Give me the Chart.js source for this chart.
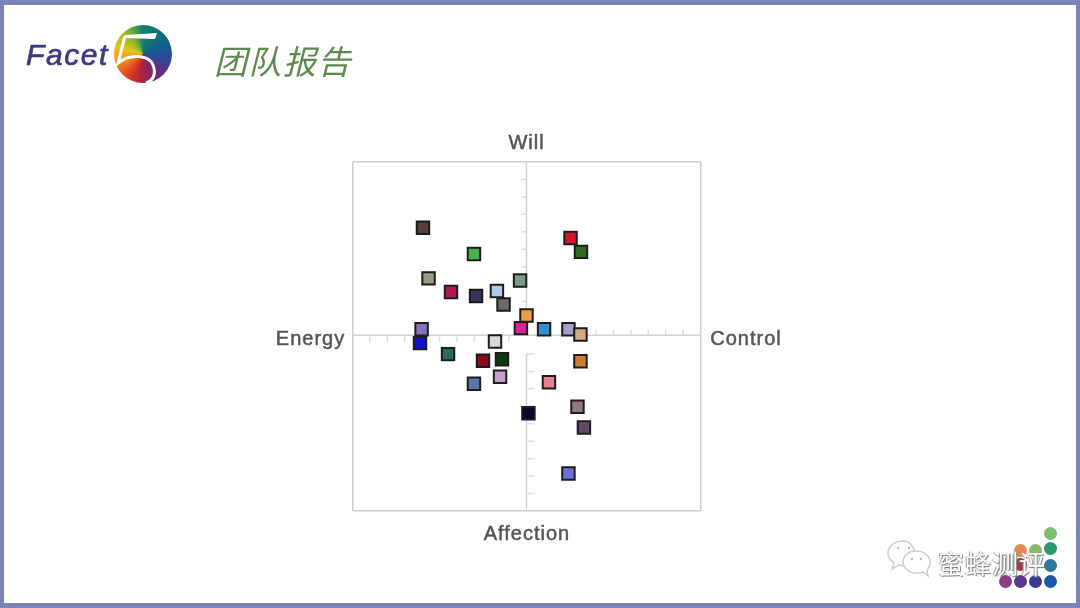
<!DOCTYPE html>
<html>
<head>
<meta charset="utf-8">
<script src="https://cdn.jsdelivr.net/npm/chart.js@4"></script>
<style>
    html, body { margin: 0; padding: 0; background: #fff; }
    #page { position: relative; width: 1080px; height: 608px; overflow: hidden; background: #fff; }
    #frame { position: absolute; left: 0; top: 0; width: 1072px; height: 598px; border: 4px solid #7b84b8; border-top-width: 5px; border-bottom-width: 5px; }
    canvas { position: absolute; left: 0; top: 0; }
    .axis-label { position: absolute; font: 20px "Liberation Sans", Arial, sans-serif; letter-spacing: 1px; color: #555; white-space: nowrap; transform: translate(-50%, -50%); -webkit-text-stroke: 0.5px #555; }
    #facet { position: absolute; left: 26px; top: 38px; font: italic 30px "Liberation Sans", Arial, sans-serif; letter-spacing: 1.6px; color: #3b3b80; -webkit-text-stroke: 0.7px #3b3b80; }
    #globe { position: absolute; left: 114px; top: 25px; width: 58px; height: 58px; border-radius: 50%; overflow: hidden;
        background: conic-gradient(#0f8068 0deg, #12608c 70deg, #2b4a98 100deg, #6a2a80 140deg, #b0203c 185deg, #e0401f 215deg, #f0901c 250deg, #e8c41c 285deg, #88b82c 325deg, #0f8068 360deg); }
    #logo5, #bubbles { position: absolute; left: 0; top: 0; }
    #title { position: absolute; left: 214px; top: 36px; font: italic 33px "Noto Sans CJK SC", sans-serif; letter-spacing: 1.5px; color: #5f8a4e; }
    #mark { position: absolute; left: 938px; top: 544px; font: 26px "Noto Sans CJK SC", sans-serif; letter-spacing: 1px; color: #fff; text-shadow: 1px 1px 1px #777, -1px 0 1px #999; white-space: nowrap; }
    .dot { position: absolute; width: 13px; height: 13px; border-radius: 50%; }
</style>
</head>
<body>
<div id="page">
    <div id="frame"></div>
    <canvas id="gridChart" width="1080" height="608"></canvas>

    <div id="globe"></div>
    <svg id="logo5" width="200" height="100">
        <path d="M125 36 L118 63 C130 53 149 55 153 65 C157 75 152 81 146 83" fill="none" stroke="#fff" stroke-width="3"/>
        <path d="M157 33 L155 39 L124 38 L125 35 Z" fill="#fff"/>
    </svg>
    <div id="facet">Facet</div>
    <div id="title">团队报告</div>

    <div class="axis-label" style="left:526.5px;top:142px">Will</div>
    <div class="axis-label" style="left:310.5px;top:338px">Energy</div>
    <div class="axis-label" style="left:746px;top:338px">Control</div>
    <div class="axis-label" style="left:527px;top:533px">Affection</div>

    <div class="dot" style="left:1044px;top:527px;background:#7fbf6f"></div>
    <div class="dot" style="left:1044px;top:542px;background:#2a9a70"></div>
    <div class="dot" style="left:1044px;top:559px;background:#2a7a9a"></div>
    <div class="dot" style="left:1044px;top:575px;background:#1a5aa8"></div>
    <div class="dot" style="left:1029px;top:575px;background:#3a3a90"></div>
    <div class="dot" style="left:1014px;top:575px;background:#5a3a90"></div>
    <div class="dot" style="left:999px;top:575px;background:#8a4080"></div>
    <div class="dot" style="left:1014px;top:544px;background:#e08a50"></div>
    <div class="dot" style="left:1014px;top:558px;background:#a03a50"></div>
    <div class="dot" style="left:1029px;top:544px;background:#88bb66"></div>

    <svg id="bubbles" width="1080" height="608">
        <g fill="#fff" stroke="#cfcfcf" stroke-width="1.5">
            <path d="M903 541 C894 541 888 547 888 553 C888 558 891 561 894 563 L892 569 L899 565 C902 566 905 566 908 566 C918 566 918 541 903 541 Z"/>
            <path d="M916 551 C908 551 903 556 903 562 C903 568 909 573 916 573 C918 573 921 573 923 572 L928 576 L927 570 C929 568 930 565 930 562 C930 556 924 551 916 551 Z"/>
        </g>
        <g fill="#bbb">
            <circle cx="898" cy="548" r="1.2"/><circle cx="909" cy="548" r="1.2"/>
            <circle cx="912" cy="559" r="1.2"/><circle cx="921" cy="559" r="1.2"/>
        </g>
    </svg>
    <div id="mark">蜜蜂测评</div>
</div>

<script>
const xValues = [-59.5, -30.2, -56.3, -43.4, -29, -17, -13.2, -3.7, -3.2, 0, 10.1, 24.1, 31, 25.3, 31.3, -60.3, -61.2, -45.1, -25, -18.1, -14.1, -15.2, -30.2, 1.1, 31, 12.9, 29.3, 33, 24.1];
const yValues = [62.3, 47.3, 33.3, 25.5, 23.2, 26.1, 18.3, 32.1, 4.8, 12, 4.2, 4.2, 1.1, 56.5, 48.5, 4.2, -3.8, -10.1, -13.9, -2.9, -13, -23.1, -27.1, -44, -14.2, -26.2, -40.3, -52.1, -78.5];
const pointColors = ['#5a3d3d', '#4cb050', '#9a9a80', '#b01858', '#34345c', '#b0c8ee', '#6a6a6a', '#7a9a88', '#e0209a', '#e8a040', '#3090d0', '#a0a0c8', '#d0aa80', '#d01828', '#2f6a22', '#8a70c0', '#1010d0', '#2a6a60', '#8a0c1c', '#d8d8d8', '#0c3a10', '#c8a0d0', '#5878a8', '#08082e', '#c88030', '#e88090', '#907880', '#604868', '#7070d8'];

const axisMin = -100;
const axisMax = 100;
const tickStep = 10;

// little pinwheel ticks on the centre cross, the vertical line stops short below the centre
const crossPlugin = {
    id: 'cross',
    beforeDatasetsDraw(chart) {
        const { ctx, scales } = chart;
        const cx = scales.x.getPixelForValue(0);
        const cy = scales.y.getPixelForValue(0) - 1.2;
        const gapEnd = scales.y.getPixelForValue(-tickStep);

        ctx.save();
        ctx.strokeStyle = '#d2d0d6';
        ctx.lineWidth = 1.5;
        ctx.beginPath();
        ctx.moveTo(chart.chartArea.left, cy);
        ctx.lineTo(chart.chartArea.right, cy);
        ctx.moveTo(cx, chart.chartArea.top);
        ctx.lineTo(cx, cy);
        ctx.moveTo(cx, gapEnd);
        ctx.lineTo(cx, chart.chartArea.bottom);
        ctx.stroke();

        ctx.strokeStyle = '#e2dee2';
        ctx.beginPath();
        scales.x.ticks.forEach(t => {
            if (t.value === 0 || Math.abs(t.value) === axisMax) return;
            const px = scales.x.getPixelForValue(t.value);
            ctx.moveTo(px, cy);
            ctx.lineTo(px, t.value < 0 ? cy + 7 : cy - 6);
        });
        scales.y.ticks.forEach(t => {
            if (t.value === 0 || Math.abs(t.value) === axisMax) return;
            const py = scales.y.getPixelForValue(t.value);
            ctx.moveTo(cx, py);
            ctx.lineTo(t.value > 0 ? cx - 5 : cx + 8, py);
        });
        ctx.stroke();
        ctx.restore();
    }
};

const edgeColor = (c) => Math.abs(c.tick.value) === axisMax ? '#cdcdd2' : 'rgba(0,0,0,0)';

new Chart(document.getElementById('gridChart').getContext('2d'), {
    type: 'scatter',
    data: {
        datasets: [{
            data: xValues.map((x, i) => ({ x: x, y: yValues[i] })),
            pointStyle: 'rect',
            pointRadius: 8.8,
            pointBorderWidth: 2,
            pointBackgroundColor: pointColors,
            pointBorderColor: '#1c1c1c'
        }]
    },
    options: {
        responsive: false,
        animation: false,
        layout: { padding: { left: 352.5, right: 379.5, top: 162, bottom: 97 } },
        plugins: { legend: { display: false }, tooltip: { enabled: false } },
        scales: {
            x: {
                type: 'linear', min: axisMin, max: axisMax,
                ticks: { display: false, stepSize: tickStep },
                border: { display: false },
                grid: { drawTicks: false, color: edgeColor, lineWidth: 1.5 }
            },
            y: {
                type: 'linear', min: axisMin, max: axisMax,
                ticks: { display: false, stepSize: tickStep },
                border: { display: false },
                grid: { drawTicks: false, color: edgeColor, lineWidth: 1.5 }
            }
        }
    },
    plugins: [crossPlugin]
});
</script>
</body>
</html>
